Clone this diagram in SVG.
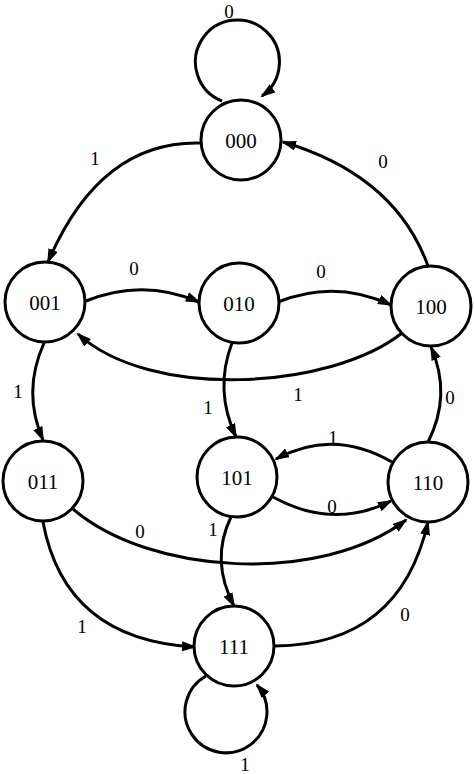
<svg xmlns="http://www.w3.org/2000/svg" width="474" height="774" viewBox="0 0 474 774">
<style>
.n circle{fill:#fff;stroke:#000;stroke-width:3}
.n text{font-family:"Liberation Serif",serif;font-size:21px;fill:#000;text-anchor:middle}
.lbl{font-family:"Liberation Serif",serif;font-size:19px;fill:#000;text-anchor:middle}
.e path{fill:none;stroke:#000;stroke-width:3;marker-end:url(#ah)}
</style>
<defs>
<marker id="ah" markerUnits="userSpaceOnUse" markerWidth="16" markerHeight="12" refX="13" refY="5" orient="auto">
<path d="M0,0 L15,5 L0,10 z" fill="#000"/>
</marker>
</defs>
<g id="connectors" class="e">
<path d="M222,101 A42,42 0 1 1 262,96"/>
<path d="M201,143 Q100,140 48,262"/>
<path d="M428,266 Q395,175 283,142"/>
<path d="M86,301 Q143,278 199,302"/>
<path d="M278,302 Q335,279 391,305"/>
<path d="M402,333 C330,390 150,400 78,334"/>
<path d="M44,343 Q22,392 43,440"/>
<path d="M232,343 Q214,390 236,437"/>
<path d="M428,442 Q452,395 431,347"/>
<path d="M392,462 Q333,428 276,459"/>
<path d="M273,497 Q333,530 391,501"/>
<path d="M73,509 C150,575 320,585 406,520"/>
<path d="M231,517 Q210,560 234,606"/>
<path d="M43,522 Q65,640 195,647"/>
<path d="M275,646 Q400,645 428,522"/>
<path d="M206,676 A41,41 0 1 0 257,685"/>
</g>
<g id="labels">
<text class="lbl" x="229" y="18">0</text>
<text class="lbl" x="95" y="165">1</text>
<text class="lbl" x="383" y="168">0</text>
<text class="lbl" x="134" y="275">0</text>
<text class="lbl" x="321" y="278">0</text>
<text class="lbl" x="298" y="401">1</text>
<text class="lbl" x="18" y="398">1</text>
<text class="lbl" x="208" y="414">1</text>
<text class="lbl" x="450" y="404">0</text>
<text class="lbl" x="333" y="444">1</text>
<text class="lbl" x="332" y="513">0</text>
<text class="lbl" x="140" y="538">0</text>
<text class="lbl" x="213" y="536">1</text>
<text class="lbl" x="82" y="633">1</text>
<text class="lbl" x="405" y="621">0</text>
<text class="lbl" x="245" y="771">1</text>
</g>
<g id="s000" class="n"><circle cx="241" cy="140" r="40"/><text x="241" y="148">000</text></g>
<g id="s001" class="n"><circle cx="45" cy="302" r="40"/><text x="45" y="310">001</text></g>
<g id="s010" class="n"><circle cx="239" cy="303" r="40"/><text x="239" y="311">010</text></g>
<g id="s100" class="n"><circle cx="431" cy="306" r="40"/><text x="431" y="314">100</text></g>
<g id="s011" class="n"><circle cx="43" cy="481" r="40"/><text x="43" y="489">011</text></g>
<g id="s101" class="n"><circle cx="237" cy="477" r="40"/><text x="237" y="485">101</text></g>
<g id="s110" class="n"><circle cx="428" cy="482" r="40"/><text x="428" y="490">110</text></g>
<g id="s111" class="n"><circle cx="234" cy="646" r="40"/><text x="234" y="654">111</text></g>
</svg>
